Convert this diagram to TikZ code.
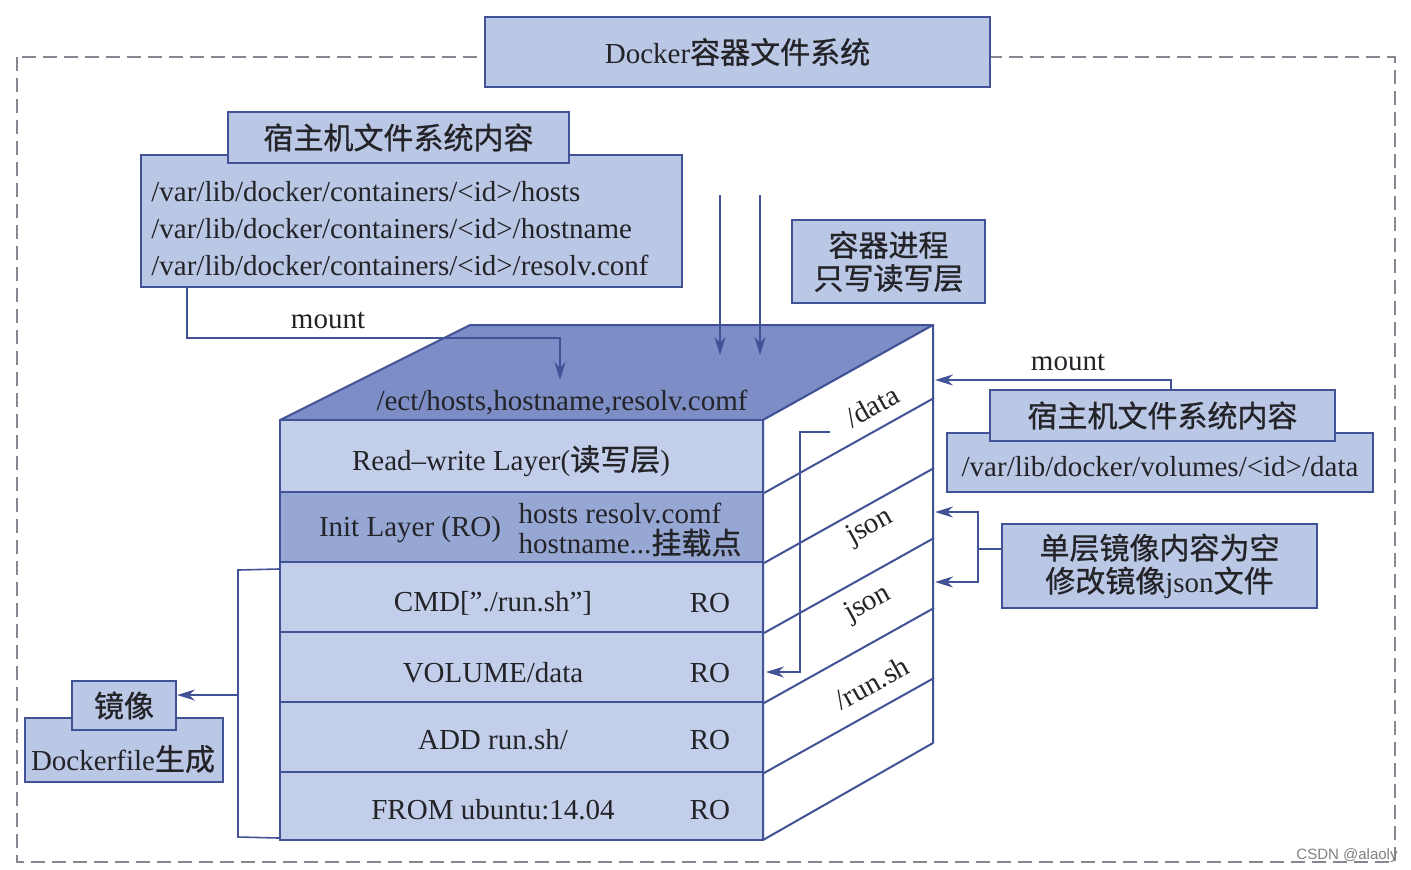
\documentclass[tikz,border=0pt]{standalone}
\usepackage{fontspec}
\setmainfont{Liberation Serif}
\newfontfamily\cjkfont[FakeBold=0.8]{Noto Sans CJK SC}
\newfontfamily\wmfont{Liberation Sans}
\usetikzlibrary{arrows.meta,calc}
\definecolor{boxfill}{RGB}{186,199,229}
\definecolor{edge}{RGB}{66,82,150}
\definecolor{topface}{RGB}{124,142,197}
\definecolor{initfill}{RGB}{150,167,212}
\definecolor{layerfill}{RGB}{194,206,234}
\definecolor{framecol}{RGB}{135,135,145}
\definecolor{txt}{RGB}{35,35,40}
\newcommand\zh[1]{{\cjkfont\fontsize{15}{18}\selectfont #1}}
\begin{document}
\begin{tikzpicture}[x=0.5pt,y=-0.5pt,
  every node/.style={font=\fontsize{14.5}{18.5}\selectfont, text=txt},
  box/.style={draw=edge, line width=1pt, fill=boxfill, inner sep=0pt},
  layer/.style={draw=edge, line width=1pt, fill=layerfill, inner sep=0pt, minimum width=241.5pt},
  conn/.style={draw=edge, line width=0.8pt},
  arr/.style={conn, -{Stealth[length=9pt,width=5.5pt]}},
  lbl/.style={inner sep=0pt},
  side/.style={rotate=29, inner sep=0pt},
]
\useasboundingbox (0,0) rectangle (1411,869);
% outer dashed frame
\draw[framecol, dash pattern=on 7pt off 3.5pt, line width=1.2pt] (17,57) rectangle (1395,862);
% title
\node[box, minimum width=252.5pt, minimum height=35pt] (title) at (737.5,52) {Docker\zh{容器文件系统}};
% host box 1
\node[box, minimum width=270.5pt, minimum height=66pt] (h1) at (411.5,221) {};
\node[box, minimum width=170.5pt, minimum height=25.5pt] (h1head) at (398.5,137.5) {\zh{宿主机文件系统内容}};
\node[lbl, anchor=west, align=left] (h1text) at (151,229) {/var/lib/docker/containers/<id>/hosts\\/var/lib/docker/containers/<id>/hostname\\/var/lib/docker/containers/<id>/resolv.conf};
% process box
\node[box, minimum width=96.5pt, minimum height=41.5pt, align=center] (proc) at (888.5,261.5) {\zh{容器进程}\\[-2pt]\zh{只写读写层}};
% cube
\coordinate (FTL) at (280,420);
\coordinate (FTR) at (763,420);
\coordinate (BTL) at (470,325);
\coordinate (BTR) at (933,325);
\coordinate (FBR) at (763,840);
\coordinate (BBR) at (933,743);
\filldraw[fill=topface, draw=edge, line width=1pt, line join=round] (FTL) -- (BTL) -- (BTR) -- (FTR) -- cycle;
\filldraw[fill=white, draw=edge, line width=1pt, line join=round] (FTR) -- (BTR) -- (BBR) -- (FBR) -- cycle;
\node[layer, minimum height=36pt] (rw) at (521.5,456) {};
\node[layer, minimum height=35pt, fill=initfill] (init) at (521.5,527) {};
\node[layer, minimum height=35pt] (cmd) at (521.5,597) {};
\node[layer, minimum height=35pt] (vol) at (521.5,667) {};
\node[layer, minimum height=35pt] (add) at (521.5,737) {};
\node[layer, minimum height=34pt] (from) at (521.5,806) {};
\foreach \n in {rw,init,cmd,vol,add}
  \draw[edge, line width=1pt] (\n.south east) -- ++(170,-95);
% layer texts
\node (toptext) at (562,403) {/ect/hosts,hostname,resolv.comf};
\node (rwtext) at (511,461) {Read--write Layer(\zh{读写层})};
\node (inittext) at (410,530) {Init Layer (RO)};
\node[align=left, font=\fontsize{14.5}{15}\selectfont] (inittext2) at (630,530) {hosts resolv.comf\\hostname...\zh{挂载点}};
\node (cmdtext) at (493,603) {CMD["./run.sh"]};
\node (cmdro) at (710,603) {RO};
\node (voltext) at (493,673) {VOLUME/data};
\node (volro) at (710,673) {RO};
\node (addtext) at (493,740) {ADD run.sh/};
\node (addro) at (710,740) {RO};
\node (fromtext) at (493,810) {FROM ubuntu:14.04};
\node (fromro) at (710,810) {RO};
% side labels
\node[side] (sdata) at (872,406) {/data};
\node[side] (sjson1) at (870,527) {json};
\node[side] (sjson2) at (868,604) {json};
\node[side] (srun) at (872,683) {/run.sh};
% mount from host 1
\coordinate (topA) at (560,380);
\draw[arr] ($(h1.south west)+(47,0)$) |- (560,338) -- (topA);
\node (mount1) at (328,320) {mount};
% vertical arrows
\coordinate (v1s) at (720,195);
\coordinate (v1e) at (720,355);
\coordinate (v2s) at (760,195);
\coordinate (v2e) at (760,355);
\draw[arr] (v1s) -- (v1e);
\draw[arr] (v2s) -- (v2e);
% host box 2
\node[box, minimum width=213pt, minimum height=29.5pt] (h2) at (1160,462.5) {};
\node[box, minimum width=172.5pt, minimum height=25.5pt] (h2head) at (1162.5,415.5) {\zh{宿主机文件系统内容}};
\node (h2text) at (1160,467) {/var/lib/docker/volumes/<id>/data};
\coordinate (rmount) at (935,380);
\draw[arr] ($(h2head.north west)+(182,0)$) |- (rmount);
\node (mount2) at (1068,362) {mount};
% single layer box
\node[box, minimum width=157.5pt, minimum height=42pt, align=center] (single) at (1159.5,566) {\zh{单层镜像内容为空}\\[-2pt]\zh{修改镜像}json\zh{文件}};
\coordinate (jsplit) at (978,549);
\coordinate (jA) at (935,512);
\coordinate (jB) at (935,582);
\draw[conn] ($(single.west)+(0,-17)$) -- (jsplit);
\draw[arr] (jsplit) |- (jA);
\draw[arr] (jsplit) |- (jB);
% inner bracket to VOLUME layer
\coordinate (brs) at (830,432);
\draw[arr] (brs) -- (800,432) -- (800,672) -- ($(vol.east)+(2,5)$);
% image box
\node[box, minimum width=99pt, minimum height=32pt] (img) at (124,750) {};
\node[box, minimum width=52pt, minimum height=24.5pt] (imghead) at (124,705.5) {\zh{镜像}};
\node (imgtext) at (123,759) {Dockerfile\zh{生成}};
\draw[conn] ($(cmd.north west)+(0,8)$) -- (238,570) -- (238,837) -- ($(from.south west)+(0,-3)$);
\draw[arr] (238,695) -- ($(imghead.east)+(0,-10.5)$);
% watermark
\node[font=\wmfont\fontsize{7.5}{9}\selectfont, text=gray] (wm) at (1347,856) {CSDN @alaoly};
\end{tikzpicture}
\end{document}
